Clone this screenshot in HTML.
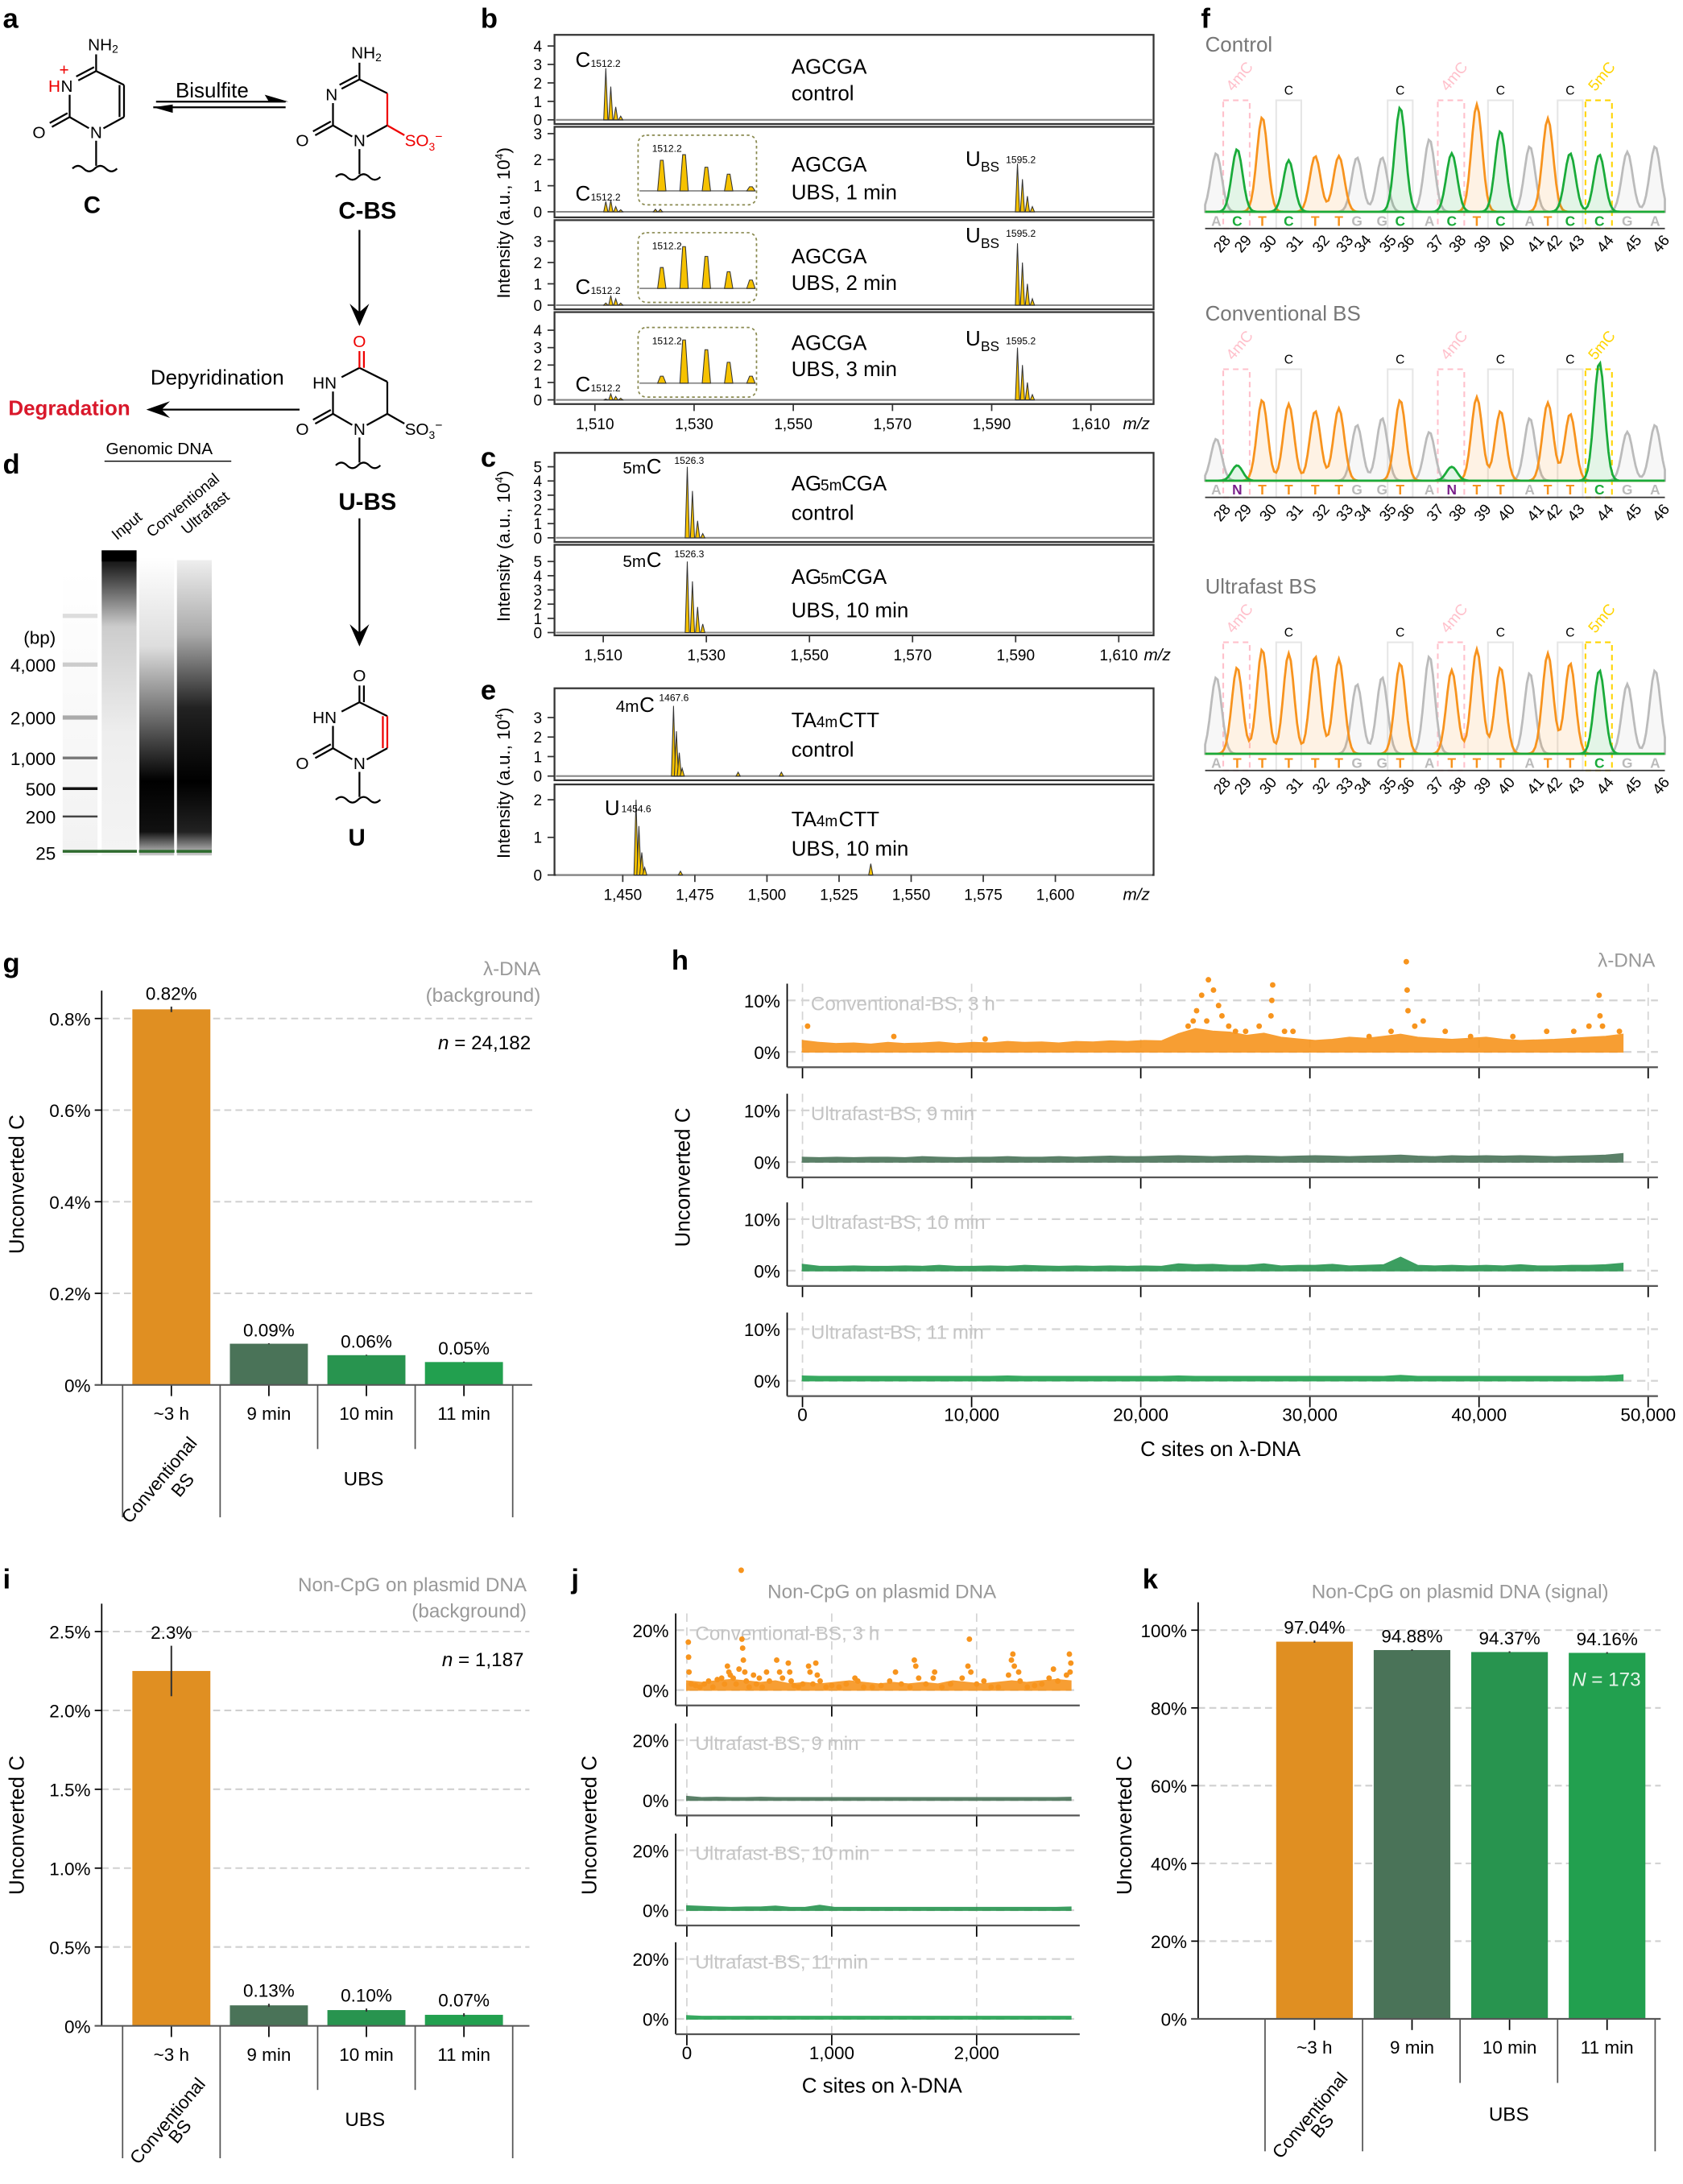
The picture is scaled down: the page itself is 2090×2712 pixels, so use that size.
<!DOCTYPE html>
<html><head><meta charset="utf-8"><style>
html,body{margin:0;padding:0;background:#fff}
svg{display:block;font-family:"Liberation Sans",Arial,sans-serif}
</style></head><body>
<svg id="fig" xmlns="http://www.w3.org/2000/svg" width="2090" height="2712" viewBox="0 0 1208 1567.5">
<defs>
<linearGradient id="gInput" x1="0" y1="0" x2="0" y2="1"><stop offset="0" stop-color="#000"/><stop offset="0.05" stop-color="#222"/><stop offset="0.25" stop-color="#ccc"/><stop offset="0.6" stop-color="#eee"/><stop offset="1" stop-color="#f4f4f4"/></linearGradient>
<linearGradient id="gConv" x1="0" y1="0" x2="0" y2="1"><stop offset="0" stop-color="#fff"/><stop offset="0.3" stop-color="#ddd"/><stop offset="0.55" stop-color="#666"/><stop offset="0.75" stop-color="#000"/><stop offset="0.92" stop-color="#111"/><stop offset="1" stop-color="#ccc"/></linearGradient>
<linearGradient id="gUltra" x1="0" y1="0" x2="0" y2="1"><stop offset="0" stop-color="#eee"/><stop offset="0.25" stop-color="#aaa"/><stop offset="0.5" stop-color="#222"/><stop offset="0.75" stop-color="#000"/><stop offset="0.92" stop-color="#222"/><stop offset="1" stop-color="#ccc"/></linearGradient>
<linearGradient id="gLadder" x1="0" y1="0" x2="0" y2="1"><stop offset="0" stop-color="#fff"/><stop offset="1" stop-color="#f2f2f2"/></linearGradient>
</defs>

<!-- Panel letters -->
<g font-weight="bold" font-size="20">
<text x="2" y="20">a</text><text x="345" y="20">b</text><text x="862" y="20">f</text>
<text x="345" y="335">c</text><text x="345" y="502">e</text><text x="2" y="340">d</text>
<text x="2" y="698">g</text><text x="482" y="696">h</text>
<text x="2" y="1140">i</text><text x="410" y="1140">j</text><text x="820" y="1140">k</text>
</g>

<!-- Panel a: chemistry (structures drawn by script) -->
<g id="chem" stroke="#000" stroke-width="1.3" fill="none">
<line x1="110" y1="77" x2="205" y2="77"/><line x1="112" y1="73" x2="205" y2="73"/>
<line x1="258" y1="165" x2="258" y2="225"/><line x1="258" y1="372" x2="258" y2="455"/>
<line x1="215" y1="294" x2="112" y2="294"/>
</g>
<g fill="#000">
<polygon points="110,77 124,75 124,81"/>
<polygon points="207,73 190,68 193,73"/>
<polygon points="258,234 251,218 258,224 265,218"/>
<polygon points="258,464 251,448 258,454 265,448"/>
<polygon points="105,294 122,288 116,294 122,300"/>
</g>
<g id="chemlab" font-size="12">
<text x="126" y="70" font-size="15">Bisulfite</text>
<text x="108" y="276" font-size="15">Depyridination</text>
<text x="6" y="298" font-size="15" font-weight="bold" fill="#d9182b">Degradation</text>
<text x="60" y="153" font-size="17" font-weight="bold">C</text>
<text x="243" y="157" font-size="17" font-weight="bold">C-BS</text>
<text x="243" y="366" font-size="17" font-weight="bold">U-BS</text>
<text x="250" y="607" font-size="17" font-weight="bold">U</text>
</g>

<!-- Panel d: gel -->
<g>
<text x="76" y="326" font-size="12">Genomic DNA</text>
<line x1="75" y1="331" x2="166" y2="331" stroke="#000" stroke-width="0.8"/>
<text transform="translate(84,388) rotate(-40)" font-size="11">Input</text>
<text transform="translate(109,386) rotate(-40)" font-size="11">Conventional</text>
<text transform="translate(134,384) rotate(-40)" font-size="11">Ultrafast</text>
<rect x="45" y="410" width="25" height="204" fill="url(#gLadder)"/>
<rect x="73" y="395" width="25" height="219" fill="url(#gInput)"/>
<rect x="100" y="400" width="25" height="214" fill="url(#gConv)"/>
<rect x="127" y="402" width="25" height="212" fill="url(#gUltra)"/>
<rect x="73" y="395" width="25" height="8" fill="#000"/>
<g font-size="13" text-anchor="end">
<text x="40" y="462">(bp)</text><text x="40" y="482">4,000</text><text x="40" y="520">2,000</text><text x="40" y="549">1,000</text><text x="40" y="571">500</text><text x="40" y="591">200</text><text x="40" y="617">25</text>
</g>
<g stroke-width="3">
<line x1="45" y1="442" x2="70" y2="442" stroke="#ddd"/><line x1="45" y1="477" x2="70" y2="477" stroke="#ccc"/>
<line x1="45" y1="515" x2="70" y2="515" stroke="#aaa"/><line x1="45" y1="544" x2="70" y2="544" stroke="#777" stroke-width="2"/>
<line x1="45" y1="566" x2="70" y2="566" stroke="#111" stroke-width="2"/><line x1="45" y1="586" x2="70" y2="586" stroke="#444" stroke-width="1.5"/>
<line x1="45" y1="611" x2="152" y2="611" stroke="#2d6a2d" stroke-width="2"/>
</g>
<line x1="99" y1="400" x2="99" y2="614" stroke="#fff" stroke-width="1.5"/><line x1="126" y1="400" x2="126" y2="614" stroke="#fff" stroke-width="1.5"/>
</g>

<g id="spectra"></g>
<g id="chrom"></g>
<g id="bars"></g>
<g id="strips"></g>

<!-- static text for charts -->
<g font-size="14" fill="#999">
<text x="388" y="700" text-anchor="end">λ-DNA</text><text x="388" y="719" text-anchor="end">(background)</text>
<text x="381" y="753" text-anchor="end" fill="#000"><tspan font-style="italic">n</tspan> = 24,182</text>
<text x="1188" y="694" text-anchor="end">λ-DNA</text>
<text x="378" y="1142" text-anchor="end">Non-CpG on plasmid DNA</text><text x="378" y="1161" text-anchor="end">(background)</text>
<text x="376" y="1196" text-anchor="end" fill="#000"><tspan font-style="italic">n</tspan> = 1,187</text>
<text x="633" y="1147" text-anchor="middle">Non-CpG on plasmid DNA</text>
<text x="1048" y="1147" text-anchor="middle">Non-CpG on plasmid DNA (signal)</text>
<text x="1153" y="1210" text-anchor="middle" fill="#e8f5ea"><tspan font-style="italic">N</tspan> = 173</text>
<text x="261" y="1066" text-anchor="middle" fill="#000">UBS</text>
<text x="262" y="1526" text-anchor="middle" fill="#000">UBS</text>
<text x="1083" y="1522" text-anchor="middle" fill="#000">UBS</text>
<text transform="translate(142,1036) rotate(-50)" text-anchor="end" fill="#000" font-size="13">Conventional</text>
<text transform="translate(140,1062) rotate(-50)" text-anchor="end" fill="#000" font-size="13">BS</text>
<text transform="translate(148,1496) rotate(-50)" text-anchor="end" fill="#000" font-size="13">Conventional</text>
<text transform="translate(138,1526) rotate(-50)" text-anchor="end" fill="#000" font-size="13">BS</text>
<text transform="translate(968,1492) rotate(-50)" text-anchor="end" fill="#000" font-size="13">Conventional</text>
<text transform="translate(958,1522) rotate(-50)" text-anchor="end" fill="#000" font-size="13">BS</text>
<text transform="translate(17,850) rotate(-90)" text-anchor="middle" fill="#000" font-size="15">Unconverted C</text>
<text transform="translate(495,845) rotate(-90)" text-anchor="middle" fill="#000" font-size="15">Unconverted C</text>
<text transform="translate(17,1310) rotate(-90)" text-anchor="middle" fill="#000" font-size="15">Unconverted C</text>
<text transform="translate(428,1310) rotate(-90)" text-anchor="middle" fill="#000" font-size="15">Unconverted C</text>
<text transform="translate(812,1310) rotate(-90)" text-anchor="middle" fill="#000" font-size="15">Unconverted C</text>
<text x="876" y="1045" text-anchor="middle" fill="#000" font-size="15">C sites on λ-DNA</text>
<text x="633" y="1502" text-anchor="middle" fill="#000" font-size="15">C sites on λ-DNA</text>
<text transform="translate(366,160) rotate(-90)" text-anchor="middle" fill="#000" font-size="13">Intensity (a.u., 10<tspan font-size="8" dy="-5">4</tspan><tspan dy="5">)</tspan></text>
<text transform="translate(366,392) rotate(-90)" text-anchor="middle" fill="#000" font-size="13">Intensity (a.u., 10<tspan font-size="8" dy="-5">4</tspan><tspan dy="5">)</tspan></text>
<text transform="translate(366,562) rotate(-90)" text-anchor="middle" fill="#000" font-size="13">Intensity (a.u., 10<tspan font-size="8" dy="-5">4</tspan><tspan dy="5">)</tspan></text>
</g>

<script>
// ---------- DATA ----------
const gCats=['~3 h','9 min','10 min','11 min'];
const gVals=[0.82,0.09,0.065,0.05];
const gValLabels=['0.82%','0.09%','0.06%','0.05%'];
const gTicks=[0,0.2,0.4,0.6,0.8];
const gTickLabels=['0%','0.2%','0.4%','0.6%','0.8%'];
const iVals=[2.25,0.13,0.10,0.07];
const iErr=[0.16,0.01,0.01,0.01];
const iValLabels=['2.3%','0.13%','0.10%','0.07%'];
const iTicks=[0,0.5,1,1.5,2,2.5];
const iTickLabels=['0%','0.5%','1.0%','1.5%','2.0%','2.5%'];
const kVals=[97.04,94.88,94.37,94.16];
const kValLabels=['97.04%','94.88%','94.37%','94.16%'];
const kTicks=[0,20,40,60,80,100];
const kTickLabels=['0%','20%','40%','60%','80%','100%'];
const barColors=['#e08f22','#4a7358','#28944f','#22a04f'];

const hTicks=[0,10000,20000,30000,40000,50000];
const hTickLabels=['0','10,000','20,000','30,000','40,000','50,000'];
const hSeriesNames=['Conventional-BS, 3 h','Ultrafast-BS, 9 min','Ultrafast-BS, 10 min','Ultrafast-BS, 11 min'];
const hConvBand=[2.2,1.8,1.6,1.7,1.5,1.8,1.6,1.7,1.9,1.6,1.8,1.7,2.0,1.8,1.9,1.7,2.0,1.9,2.1,2.0,2.2,2.1,3.5,4.5,4.0,3.8,3.2,3.6,2.8,2.5,2.2,2.4,2.8,2.6,3.0,3.4,2.8,2.6,2.4,2.6,2.8,2.4,2.2,2.3,2.4,2.6,2.8,3.0,3.4];
const hConvOutSites=[300,5400,10800,24000,23600,23300,24300,24600,23900,27800,27750,27700,35700,35750,35800,36700,47100,47150,47300,25200,38000,44000,29000,42000,48300,22800,23100,24800,25600,26200,27000,28500,33500,34800,36200,39500,45600,46500];
const hConvOutVals=[5,3,2.5,14,11,8,12,9,6,13,10,7,17.5,12,8,6,11,7,5,5,4,4,4,3,4,5,6,7,4,4,5,4,3,4,5,3,4,5];
const hU9Band=[0.9,0.8,0.9,0.8,0.9,0.9,0.8,1.0,0.9,0.8,0.9,0.9,1.0,0.9,0.9,1.0,0.9,1.0,1.1,1.0,1.0,1.1,1.2,1.1,1.0,1.1,1.2,1.1,1.0,1.1,1.2,1.1,1.0,1.1,1.2,1.3,1.1,1.0,1.2,1.1,1.2,1.1,1.2,1.1,1.0,1.1,1.2,1.3,1.6];
const hU10Band=[1.2,0.8,0.8,0.9,0.8,0.8,0.9,0.8,1.0,0.8,0.8,0.9,0.8,1.0,0.9,0.8,0.9,0.8,0.9,0.8,0.9,0.8,1.3,1.1,1.2,1.0,1.0,1.3,0.9,1.0,1.0,1.2,0.9,1.0,1.1,2.6,1.0,0.9,1.0,0.9,1.0,0.9,1.1,0.9,0.9,1.0,1.0,1.1,1.4];
const hU11Band=[0.9,0.8,0.8,0.8,0.8,0.8,0.8,0.8,0.8,0.8,0.8,0.8,0.9,0.8,0.8,0.8,0.8,0.8,0.8,0.8,0.8,0.8,0.9,0.8,0.8,0.8,0.8,0.8,0.8,0.8,0.8,0.8,0.8,0.8,0.8,1.0,0.8,0.8,0.8,0.8,0.8,0.8,0.8,0.8,0.8,0.8,0.8,0.9,1.1];

const jTicks=[0,1000,2000];
const jTickLabels=['0','1,000','2,000'];
const jConvSites=[10,12,15,30,60,90,120,150,180,210,240,260,280,290,300,320,340,360,375,380,385,390,400,410,430,460,480,500,520,550,570,620,640,660,700,710,720,740,770,800,840,850,870,890,900,920,960,1000,1050,1100,1160,1180,1220,1280,1340,1400,1440,1480,1540,1570,1580,1600,1650,1700,1710,1760,1820,1900,1940,1950,1960,2000,2050,2100,2150,2220,2240,2250,2260,2290,2300,2350,2400,2450,2500,2530,2560,2620,2640,2650,2645];
const jConvVals=[16,11,6,2,1.5,1,2,3,1,3.5,4,2,8,6,5,4,2,7,40,17,14,10,6,3,1,5,2,4,1,6,3,10,6,4,9,6,3,1.5,1,2,8,6,2,9,5,3,1,1.5,1,2,4,3,1,1,1.5,3,6,2,1,10,8,4,2,4,6,1,2,4,8,17,6,2,3,1,1,5,10,12,8,6,3,1,1.5,2,4,7,3,5,12,9,6];
const jConvBand=[3,2.5,3,3.5,3,2.5,3,2,2.5,2,2.5,3,2.5,2,2.5,2,2.5,2,3,2.5,2,2.5,3,2.5,3,3.5,3];
const jU9Band=[1.2,0.8,0.9,0.8,0.8,0.9,0.8,0.8,0.8,0.8,0.8,0.8,0.8,0.8,0.8,0.8,0.8,0.8,0.8,0.8,0.8,0.8,0.8,0.8,0.8,0.8,0.9];
const jU10Band=[1.4,1.2,1.0,0.9,1.0,1.0,1.3,0.9,0.9,1.6,0.9,0.9,0.9,0.9,0.9,0.9,0.9,0.9,0.9,0.9,0.9,0.9,0.9,0.9,0.9,0.9,1.0];
const jU11Band=[1.0,0.8,0.8,0.8,0.8,0.8,0.8,0.8,0.8,0.8,0.8,0.8,0.8,0.8,0.8,0.8,0.8,0.8,0.8,0.8,0.8,0.8,0.8,0.8,0.8,0.8,0.8];

const b1Peaks=[[1512.2,2.8],[1513.2,1.8],[1514.2,0.7],[1515.2,0.2]];
const b2Peaks=[[1512.2,0.4],[1513.2,0.45],[1514.2,0.2],[1515.2,0.08],[1522.2,0.1],[1523.2,0.1],[1595.2,1.85],[1596.2,1.25],[1597.2,0.6],[1598.2,0.2]];
const b3Peaks=[[1512.2,0.1],[1513.2,0.45],[1514.2,0.3],[1515.2,0.1],[1595.2,2.9],[1596.2,2.0],[1597.2,1.0],[1598.2,0.3]];
const b4Peaks=[[1512.2,0.05],[1513.2,0.35],[1514.2,0.2],[1515.2,0.1],[1595.2,3.0],[1596.2,2.0],[1597.2,1.0],[1598.2,0.3]];
const c1Peaks=[[1526.3,5.0],[1527.3,3.3],[1528.3,1.2],[1529.3,0.3]];
const c2Peaks=[[1526.3,5.0],[1527.3,3.6],[1528.3,1.8],[1529.3,0.6]];
const e1Peaks=[[1467.6,3.6],[1468.6,2.3],[1469.6,1.2],[1470.6,0.4],[1490,0.2],[1505,0.2]];
const e2Peaks=[[1454.6,2.0],[1455.6,1.3],[1456.6,0.6],[1457.6,0.2],[1470,0.1],[1536,0.3]];
const inset2=[[0,2.2],[1,2.6],[2,1.7],[3,1.2],[4,0.3]];
const inset3=[[0,1.5],[1,3.0],[2,2.3],[3,1.2],[4,0.6]];
const inset4=[[0,0.5],[1,3.1],[2,2.4],[3,1.5],[4,0.5]];

const chromPos=[28,29,30,31,32,33,34,35,36,37,38,39,40,41,42,43,44,45,46];
const ctrlBases=['A','C','T','C','T','T','G','G','C','A','C','T','C','A','T','C','C','G','A'];
const ctrlHeights=[42,45,68,37,40,40,39,39,75,52,42,77,58,47,67,42,41,43,47];
const convBases=['A','N','T','T','T','T','G','G','T','A','N','T','T','A','T','T','C','G','A'];
const convHeights=[30,22,58,55,50,52,40,45,58,35,20,60,50,45,56,48,85,35,40];
const ultraBases=['A','T','T','T','T','T','G','G','T','A','T','T','T','A','T','T','C','G','A'];
const ultraHeights=[55,62,75,72,70,68,50,55,65,70,60,75,62,58,72,65,60,50,60];

// ---------- helpers ----------
const NS='http://www.w3.org/2000/svg';
function mk(tag,a,txt,p){const e=document.createElementNS(NS,tag);for(const k in a)e.setAttribute(k,a[k]);if(txt!=null)e.textContent=txt;p.appendChild(e);return e;}

// ---------- chemistry structures ----------
const chemG=document.getElementById('chem');
const chemL=document.getElementById('chemlab');
function shorten(a,b,s0,s1){const dx=b[0]-a[0],dy=b[1]-a[1],L=Math.hypot(dx,dy);return [a[0]+dx*s0/L,a[1]+dy*s0/L,b[0]-dx*s1/L,b[1]-dy*s1/L];}
function bond(a,b,s0,s1,col,dbl){
  const c=shorten(a,b,s0,s1);
  const l=mk('line',{x1:c[0],y1:c[1],x2:c[2],y2:c[3],stroke:col||'#000'},null,chemG);
  
  
  if(dbl){const dx=c[2]-c[0],dy=c[3]-c[1],L=Math.hypot(dx,dy),nx=-dy/L*3.2*dbl,ny=dx/L*3.2*dbl;
    const l2=mk('line',{x1:c[0]+nx,y1:c[1]+ny,x2:c[2]+nx,y2:c[3]+ny,stroke:col||'#000'},null,chemG);
    
    }
}
function lab(x,y,t,col){const e=mk('text',{x:x,y:y,fill:col||'#000','text-anchor':'middle'},t,chemL);
  
  return e;}
function wavy(x,y){const p=mk('path',{d:'M'+(x-17)+','+y+' q4,-4 8,0 q4,4 8,0 q4,-4 8,0 q4,4 8,0'},null,chemG);
  
  }
function ring(cx,ty,o){
  const T=[cx,ty],UR=[cx+20,ty+10],LR=[cx+20,ty+33],B=[cx,ty+44],LL=[cx-19,ty+33],UL=[cx-19,ty+10];
  bond(T,UR,0,0,o.c5col,o.c56?0:0);
  bond(UR,LR,0,0,o.c56col,o.c56?1:0);
  bond(LR,B,0,6);
  bond(B,LL,6,0);
  bond(LL,UL,0,7);
  bond(UL,T,7,0,null,o.n3dbl?-1:0);
  bond(LL,[cx-37,ty+43],0,6,null,1);
  lab(cx-41,ty+48,'O');
  bond(B,[cx,ty+68],6,0);
  wavy(cx,ty+70);
  lab(cx,ty+48,'N');
  if(o.top==='NH2'){bond(T,[cx,ty-12],0,0);const e=lab(cx+5,ty-15,'NH');const s=mk('tspan',{'font-size':8,dy:2},'2',e);}
  else{bond(T,[cx,ty-12],0,0,o.ocol,1);lab(cx,ty-15,'O',o.ocol);}
  if(o.hn){lab(cx-25,ty+15,'HN');}
  else if(o.hplus){lab(cx-30,ty+15,'H','#e00');lab(cx-21,ty+15,'N');lab(cx-23,ty+3,'+','#e00');}
  else lab(cx-20,ty+15,'N');
  if(o.so3){bond(LR,[cx+34,ty+41],0,2,o.so3col);const e=lab(cx+46,ty+48,'SO',o.so3col);
    const s1=mk('tspan',{'font-size':8,dy:3},'3',e);
    const s2=mk('tspan',{'font-size':9,dy:-7},'−',e);}
}
ring(69,51,{top:'NH2',hplus:true,n3dbl:true,c56:true});
ring(258,57,{top:'NH2',n3dbl:true,so3:true,so3col:'#e00',c56col:'#e00'});
ring(258,264,{top:'O',ocol:'#e00',hn:true,so3:true});
ring(258,504,{top:'O',hn:true,c56:true,c56col:'#e00'});

// ---------- bar charts ----------
const barsG=document.getElementById('bars');
function barChart(name,vals,labels,ticks,tickLabels,err,geo){
  const ys=v=>geo.y0-v*geo.k;
  const g=mk('g',{},null,barsG);
  
  
  ticks.forEach((t,i)=>{
    if(t>0){const gl=mk('line',{x1:geo.ax,x2:geo.right,y1:ys(t),y2:ys(t),stroke:'#d0d0d0','stroke-dasharray':'5,3','stroke-width':1.2},null,g);
    
    }
    const tk=mk('line',{x1:geo.ax-5,x2:geo.ax,y1:ys(t),y2:ys(t),stroke:'#000'},null,g);
    
    
    const tl=mk('text',{x:geo.ax-8,y:ys(t)+5,'text-anchor':'end','font-size':13},tickLabels[i],g);
    
    
  });
  vals.forEach((v,i)=>{
    const x=geo.bx[i];
    const r=mk('rect',{x:x,y:ys(v),width:geo.bw,height:v*geo.k,fill:barColors[i]},null,g);
    
    
    const e=err[i];
    const eb=mk('line',{x1:x+geo.bw/2,x2:x+geo.bw/2,y1:ys(v+e),y2:ys(v-e),stroke:'#333','stroke-width':1.2},null,g);
    
    
    const vl=mk('text',{x:x+geo.bw/2,y:ys(v+e)-5,'text-anchor':'middle','font-size':13},labels[i],g);
    
    
    const cl=mk('text',{x:x+geo.bw/2,y:geo.y0+25,'text-anchor':'middle','font-size':13},gCats[i],g);
    
    
    const ct=mk('line',{x1:x+geo.bw/2,x2:x+geo.bw/2,y1:geo.y0,y2:geo.y0+8,stroke:'#000'},null,g);
    
    
  });
  const ax=mk('line',{x1:geo.ax,x2:geo.ax,y1:ys(ticks[ticks.length-1])-20,y2:geo.y0,stroke:'#000'},null,g);
  
  
  const xa=mk('line',{x1:geo.ax-5,x2:geo.right,y1:geo.y0,y2:geo.y0,stroke:'#555','stroke-width':1.2},null,g);
  
  
  geo.div.forEach((d,i)=>{
    const dl=mk('line',{x1:d,x2:d,y1:geo.y0,y2:geo.y0+((i==2||i==3)?geo.dShort:geo.dLong),stroke:'#555'},null,g);
    
    
  });
}
barChart('bar-chart-g',gVals,gValLabels,gTicks,gTickLabels,[0.006,0.001,0.001,0.001],{ax:73,y0:994,k:328.75,right:382,bx:[95,165,235,305],bw:56,div:[88,158,228,298,368],dShort:46,dLong:95});
barChart('bar-chart-i',iVals,iValLabels,iTicks,iTickLabels,iErr,{ax:73,y0:1454,k:113.2,right:380,bx:[95,165,235,305],bw:56,div:[88,158,228,298,368],dShort:46,dLong:95});
barChart('bar-chart-k',kVals,kValLabels,kTicks,kTickLabels,[0.3,0.2,0.2,0.2],{ax:860,y0:1449,k:2.79,right:1192,bx:[916,986,1056,1126],bw:55,div:[908,978,1048,1118,1188],dShort:46,dLong:95});

// ---------- strip charts ----------
const stripsG=document.getElementById('strips');
function stripChart(name,geo,panels,ticks,tickLabels){
  const xs=v=>geo.x0+v*geo.kx;
  const g=mk('g',{},null,stripsG);
  
  
  panels.forEach((p,pi)=>{
    const y0=p.y0, ys=v=>y0-v*geo.ky;
    ticks.forEach(t=>{
      const v=mk('line',{x1:xs(t),x2:xs(t),y1:y0-geo.ky*geo.top-12,y2:y0+11,stroke:'#d4d4d4','stroke-dasharray':'6,4'},null,g);
      
      
      const xt=mk('line',{x1:xs(t),x2:xs(t),y1:y0+11,y2:y0+19,stroke:'#000'},null,g);
      
      
    });
    [0,geo.top].forEach(t=>{
      const hl=mk('line',{x1:geo.left,x2:geo.right,y1:ys(t),y2:ys(t),stroke:'#d4d4d4','stroke-dasharray':'6,4','stroke-width':1.3},null,g);
      
      
      const tl=mk('text',{x:geo.left-5,y:ys(t)+5,'text-anchor':'end','font-size':13},t+'%',g);
      
      
    });
    const lab=mk('text',{x:xs(0)+6,y:ys(geo.top)+7,'font-size':14,fill:'#c4c4c4'},p.label,g);
    
    
    const n=p.band.length, step=geo.maxSite/(n-1);
    let d='M'+xs(0)+','+ys(0);
    p.band.forEach((v,i)=>{d+=' L'+xs(i*step).toFixed(1)+','+ys(v).toFixed(1);});
    d+=' L'+xs(geo.maxSite)+','+ys(0)+' Z';
    const band=mk('path',{d:d,fill:p.color,stroke:p.color,'stroke-width':1,opacity:0.9},null,g);
    
    
    if(p.sites){p.sites.forEach((s,i)=>{
      const c=mk('circle',{cx:xs(s),cy:Math.max(ys(p.vals[i]),geo.clipTop),r:2,fill:p.color},null,g);
      
      
    });}
    const ya=mk('line',{x1:geo.left,x2:geo.left,y1:ys(geo.top)-12,y2:y0+11,stroke:'#000'},null,g);
    
    
    const xa=mk('line',{x1:geo.left,x2:geo.right,y1:y0+11,y2:y0+11,stroke:'#555','stroke-width':1.3},null,g);
    
    
  });
  const last=panels[panels.length-1].y0;
  ticks.forEach((t,i)=>{
    const tl=mk('text',{x:xs(t),y:last+29,'text-anchor':'middle','font-size':13},tickLabels[i],g);
    
    
  });
}
stripChart('strip-chart-h',{x0:576,kx:607/50000,ky:3.7,top:10,left:565,right:1190,maxSite:48500,clipTop:0},
 [{y0:755,label:hSeriesNames[0],color:'#f7941d',band:hConvBand,sites:hConvOutSites,vals:hConvOutVals},
  {y0:834,label:hSeriesNames[1],color:'#4a7358',band:hU9Band},
  {y0:912,label:hSeriesNames[2],color:'#28944f',band:hU10Band},
  {y0:991,label:hSeriesNames[3],color:'#22a04f',band:hU11Band}],hTicks,hTickLabels);
stripChart('strip-chart-j',{x0:493,kx:0.104,ky:2.15,top:20,left:485,right:775,maxSite:2650,clipTop:0},
 [{y0:1213,label:'Conventional-BS, 3 h',color:'#f7941d',band:jConvBand,sites:jConvSites,vals:jConvVals},
  {y0:1292,label:'Ultrafast-BS, 9 min',color:'#4a7358',band:jU9Band},
  {y0:1371,label:'Ultrafast-BS, 10 min',color:'#28944f',band:jU10Band},
  {y0:1449,label:'Ultrafast-BS, 11 min',color:'#22a04f',band:jU11Band}],jTicks,jTickLabels);

// ---------- mass spectra ----------
const specG=document.getElementById('spectra');
function specBox(name,geo,peaks,yMax,labels){
  const xs=m=>geo.x0+(m-geo.m0)*geo.kx;
  const ys=v=>geo.base-v*geo.ky;
  const g=mk('g',{},null,specG);
  
  
  const r=mk('rect',{x:398,y:geo.top,width:430,height:geo.h,fill:'none',stroke:'#333','stroke-width':1.3},null,g);
  
  
  const bl=mk('line',{x1:399,x2:827,y1:geo.base,y2:geo.base,stroke:'#888','stroke-width':1.2},null,g);
  
  
  for(let t=0;t<=yMax;t++){
    const tl=mk('text',{x:389,y:ys(t)+4,'text-anchor':'end','font-size':11},String(t),g);
    
    
    const tk=mk('line',{x1:393,x2:398,y1:ys(t),y2:ys(t),stroke:'#333'},null,g);
    
    
  }
  peaks.forEach(p=>{
    const x=xs(p[0]);
    const pk=mk('path',{d:'M'+(x-1.5)+','+geo.base+' L'+x+','+ys(p[1])+' L'+(x+1.5)+','+geo.base+' Z',fill:'#f6c200',stroke:'#333','stroke-width':0.6},null,g);
    
    
  });
  labels.forEach(l=>{
    const t=mk('text',{x:l[0],y:l[1],'font-size':l[3]||15},l[2],g);
    
    
  });
  return g;
}
function inset(name,y,data){
  const g=mk('g',{},null,specG);
  
  
  const r=mk('rect',{x:458,y:y,width:85,height:50,rx:6,fill:'none',stroke:'#8a8a50','stroke-dasharray':'2,2'},null,g);
  
  
  const base=y+40;
  const bl=mk('line',{x1:459,x2:542,y1:base,y2:base,stroke:'#888'},null,g);
  
  
  data.forEach(p=>{
    const x=475+p[0]*16, h=p[1]*10;
    const pk=mk('path',{d:'M'+(x-3)+','+base+' L'+(x-1)+','+(base-h)+' L'+(x+1)+','+(base-h)+' L'+(x+3)+','+base+' Z',fill:'#f6c200',stroke:'#333','stroke-width':0.6},null,g);
    
    
  });
  const tl=mk('text',{x:468,y:y+12,'font-size':7},'1512.2',g);
  
  
}
const bGeo={x0:427,m0:1510,kx:3.56};
specBox('spectrum-b1',{...bGeo,top:25,h:64,base:86,ky:13.25},b1Peaks,4,[[568,53,'AGCGA'],[568,72,'control'],[413,48,'C'],[424,48,'1512.2',7]]);
specBox('spectrum-b2',{...bGeo,top:91,h:65,base:152,ky:18.7},b2Peaks,3,[[568,123,'AGCGA'],[568,143,'UBS, 1 min'],[413,144,'C'],[424,144,'1512.2',7],[693,119,'U'],[704,123,'BS',10],[722,117,'1595.2',7]]);
specBox('spectrum-b3',{...bGeo,top:158,h:64,base:219,ky:15.3},b3Peaks,3,[[568,189,'AGCGA'],[568,208,'UBS, 2 min'],[413,211,'C'],[424,211,'1512.2',7],[693,174,'U'],[704,178,'BS',10],[722,170,'1595.2',7]]);
specBox('spectrum-b4',{...bGeo,top:224,h:66,base:287,ky:12.5},b4Peaks,4,[[568,251,'AGCGA'],[568,270,'UBS, 3 min'],[413,281,'C'],[424,281,'1512.2',7],[693,248,'U'],[704,252,'BS',10],[722,247,'1595.2',7]]);
inset('inset-b2',97,inset2);inset('inset-b3',167,inset3);inset('inset-b4',235,inset4);
const cGeo={x0:433,m0:1510,kx:3.7};
specBox('spectrum-c1',{...cGeo,top:325,h:64,base:386,ky:10.2},c1Peaks,5,[[568,352,'AG'],[589,352,'5m',11],[604,352,'CGA'],[568,373,'control'],[447,340,'5m',12],[464,340,'C'],[484,333,'1526.3',7]]);
specBox('spectrum-c2',{...cGeo,top:391,h:65,base:454,ky:10.2},c2Peaks,5,[[568,419,'AG'],[589,419,'5m',11],[604,419,'CGA'],[568,443,'UBS, 10 min'],[447,407,'5m',12],[464,407,'C'],[484,400,'1526.3',7]]);
const eGeo={x0:447,m0:1450,kx:2.07};
specBox('spectrum-e1',{...eGeo,top:494,h:66,base:557,ky:14},e1Peaks,3,[[568,522,'TA'],[586,522,'4m',11],[602,522,'CTT'],[568,543,'control'],[442,511,'4m',12],[459,511,'C'],[473,503,'1467.6',7]]);
specBox('spectrum-e2',{...eGeo,top:563,h:65,base:628,ky:27},e2Peaks,2,[[568,593,'TA'],[586,593,'4m',11],[602,593,'CTT'],[568,614,'UBS, 10 min'],[434,585,'U'],[446,583,'1454.6',7]]);
function specAxis(name,y,geo,vals,labels,mzx){
  const g=mk('g',{},null,specG);
  
  
  vals.forEach((m,i)=>{
    const x=geo.x0+(m-geo.m0)*geo.kx;
    const t=mk('text',{x:x,y:y+18,'text-anchor':'middle','font-size':11},labels[i],g);
    
    
    const tk=mk('line',{x1:x,x2:x,y1:y,y2:y+5,stroke:'#333'},null,g);
    
    
  });
  const mz=mk('text',{x:mzx,y:y+18,'font-size':12,'font-style':'italic'},'m/z',g);
  
  
}
specAxis('spectrum-axis-b',290,bGeo,[1510,1530,1550,1570,1590,1610],['1,510','1,530','1,550','1,570','1,590','1,610'],806);
specAxis('spectrum-axis-c',456,cGeo,[1510,1530,1550,1570,1590,1610],['1,510','1,530','1,550','1,570','1,590','1,610'],821);
specAxis('spectrum-axis-e',628,eGeo,[1450,1475,1500,1525,1550,1575,1600],['1,450','1,475','1,500','1,525','1,550','1,575','1,600'],806);

// ---------- chromatograms ----------
const chromG=document.getElementById('chrom');
const posX=[873,888,906,925,944,961,974,992,1005,1026,1042,1060,1077,1098,1111,1127,1148,1168,1188];
const colorOf=b=>b==='C'?'#1aab3a':b==='T'?'#f7931e':b==='N'?'#7a1f8a':'#bbbbbb';
function chrom(name,title,ty,base,bases,heights,cPos,p4,p5){
  const g=mk('g',{},null,chromG);
  
  
  const t=mk('text',{x:865,y:ty,'font-size':15,fill:'#777'},title,g);
  
  
  cPos.forEach(i=>{
    const r=mk('rect',{x:posX[i]-9,y:base-80,width:18,height:92,fill:'none',stroke:'#e6e6e6','stroke-width':1.2},null,g);
    
    
    const l=mk('text',{x:posX[i],y:base-84,'text-anchor':'middle','font-size':9},'C',g);
    
    
  });
  [[p4[0],'#ffc0cb','4mC'],[p4[1],'#ffc0cb','4mC'],[p5,'#ffd400','5mC']].forEach(q=>{
    const i=q[0];
    const r=mk('rect',{x:posX[i]-10,y:base-80,width:19,height:92,fill:'none',stroke:q[1],'stroke-dasharray':'4,3','stroke-width':1.2},null,g);
    
    
    const l=mk('text',{transform:'translate('+(posX[i]-3)+','+(base-86)+') rotate(-50)','font-size':11,fill:q[1]},q[2],g);
    
    
  });
  ['#bbbbbb','#f7931e','#1aab3a'].forEach(col=>{
    let d='M865,'+base;
    for(let x=865;x<=1195;x+=1.5){
      let y=0;
      bases.forEach((b,i)=>{ if(colorOf(b)===col||(b==='N'&&col==='#1aab3a')){const dx=x-posX[i];y+=heights[i]*(b==='N'?0.5:1)*Math.exp(-dx*dx/30);} });
      d+=' L'+x.toFixed(1)+','+(base-y).toFixed(1);
    }
    const pth=mk('path',{d:d+' L1195,'+base+' Z',fill:col,'fill-opacity':0.12,stroke:col,'stroke-width':1.6},null,g);
    
    
  });
  const ax=mk('line',{x1:865,x2:1195,y1:base+12,y2:base+12,stroke:'#333'},null,g);
  
  
  bases.forEach((b,i)=>{
    const l=mk('text',{x:posX[i],y:base+10,'text-anchor':'middle','font-size':10,'font-weight':'bold',fill:colorOf(b)},b,g);
    
    
    const n=mk('text',{transform:'translate('+(posX[i]+3)+','+(base+30)+') rotate(-50)','font-size':11},String(chromPos[i]),g);
    
    
  });
}
chrom('chromatogram-control','Control',37,152,ctrlBases,ctrlHeights,[3,8,12,15],[1,10],16);
chrom('chromatogram-conventional','Conventional BS',230,345,convBases,convHeights,[3,8,12,15],[1,10],16);
chrom('chromatogram-ultrafast','Ultrafast BS',426,541,ultraBases,ultraHeights,[3,8,12,15],[1,10],16);
</script>
</svg>
</body></html>
